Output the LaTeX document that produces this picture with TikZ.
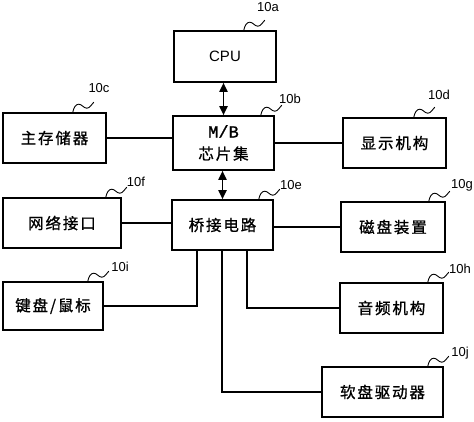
\documentclass[tikz,border=0pt]{standalone}
\usepackage{fontspec}
\setmainfont{Liberation Sans}
\newfontfamily\cjk[LetterSpace=12,FakeBold=1]{Noto Sans CJK SC}
\newfontfamily\monof[FakeBold=1.2]{Liberation Mono}
\usetikzlibrary{arrows.meta}
\begin{document}
\begin{tikzpicture}[x=1pt,y=-1pt,
  box/.style={draw, line width=1.6pt, inner sep=0pt, minimum height=50pt},
  cjkbox/.style={box, font=\cjk\fontsize{15.5}{22}\selectfont},
  conn/.style={line width=2.2pt},
  lab/.style={font=\fontsize{13}{15}\selectfont, inner sep=0pt},
  sq/.pic={\draw[line width=0.9pt] (0,0) .. controls (1,-5) and (3,-8) .. (6,-8) .. controls (9,-8) and (11,-4) .. (14,-4) .. controls (17,-4) and (19,-8) .. (21,-10);},
  dbl/.style={line width=1.8pt, {Triangle[length=9pt,width=8pt]}-{Triangle[length=9pt,width=8pt]}}
]
\useasboundingbox (0,0) rectangle (474,421);

\node[box, minimum width=102pt, minimum height=51pt, font=\fontsize{15}{18}\selectfont] (cpu) at (225,56.5) {CPU};
\node[cjkbox, minimum width=101pt, minimum height=54pt, align=center] (mb) at (223.5,143) {{\monof\fontsize{17}{22}\selectfont M/B}\\芯片集};
\node[cjkbox, minimum width=103pt] (mm) at (54.5,138) {主存储器};
\node[cjkbox, minimum width=103pt] (dp) at (394.5,143) {显示机构};
\node[cjkbox, minimum width=118pt] (nw) at (62,223) {网络接口};
\node[cjkbox, minimum width=101pt] (br) at (222.5,225) {桥接电路};
\node[cjkbox, minimum width=104pt] (dk) at (393,227) {磁盘装置};
\node[cjkbox, minimum width=100pt, minimum height=48pt] (kb) at (53,306) {键盘/鼠标};
\node[cjkbox, minimum width=103pt] (au) at (391.5,308) {音频机构};
\node[cjkbox, minimum width=121pt] (fd) at (382.5,392) {软盘驱动器};

% connectors
\draw[dbl] (mb.north |- cpu.south) -- (mb.north);
\draw[dbl] (br.north |- mb.south) -- (br.north);
\draw[conn] (mm.east) -- (mm.east -| mb.west);
\draw[conn] (dp.west) -- (dp.west -| mb.east);
\draw[conn] (nw.east) -- (nw.east -| br.west);
\draw[conn] (dk.west) -- (dk.west -| br.east);
\draw[conn] (kb.east) -| ([xshift=-25.5pt]br.south);
\draw[conn] ([xshift=-0.5pt]br.south) |- (fd.west);
\draw[conn] ([xshift=24.5pt]br.south) |- (au.west);

% reference labels
\pic at ([xshift=-33pt]cpu.north east) {sq};
\node[lab] (l10a) at (268,7) {10a};
\pic at ([xshift=-14pt]mb.north east) {sq};
\node[lab] (l10b) at (290,99) {10b};
\pic at ([xshift=-34pt]mm.north east) {sq};
\node[lab] (l10c) at (99,88) {10c};
\pic at ([xshift=-33pt]dp.north east) {sq};
\node[lab] (l10d) at (439,95) {10d};
\pic at ([xshift=-16pt]nw.north east) {sq};
\node[lab] (l10f) at (136,182) {10f};
\pic at ([xshift=-15pt]br.north east) {sq};
\node[lab] (l10e) at (291,185) {10e};
\pic at ([xshift=-17pt]dk.north east) {sq};
\node[lab] (l10g) at (462,185) {10g};
\pic at ([xshift=-16pt]kb.north east) {sq};
\node[lab] (l10i) at (120,267) {10i};
\pic at ([xshift=-16pt]au.north east) {sq};
\node[lab] (l10h) at (460,269) {10h};
\pic at ([xshift=-16pt]fd.north east) {sq};
\node[lab] (l10j) at (460,353) {10j};
\end{tikzpicture}
\end{document}
